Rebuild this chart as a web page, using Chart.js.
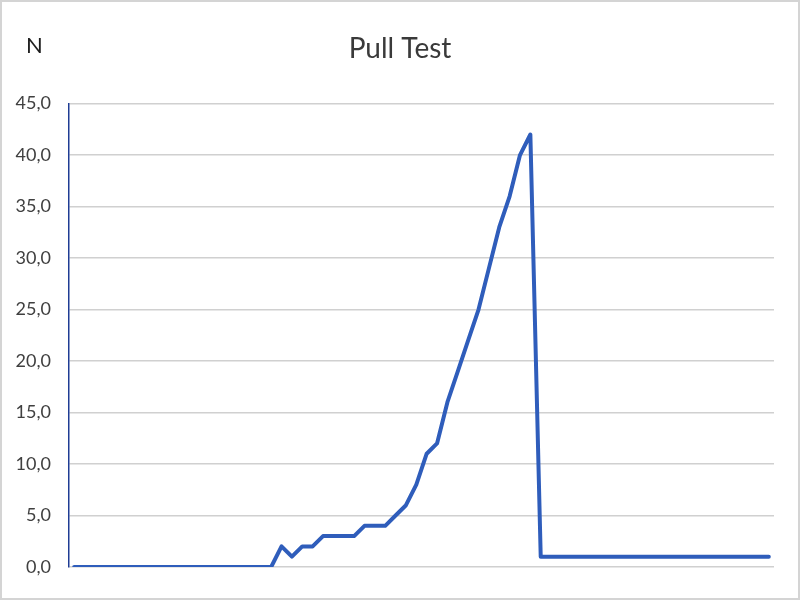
<!DOCTYPE html>
<html>
<head>
<meta charset="utf-8">
<title>Pull Test</title>
<script src="https://cdn.jsdelivr.net/npm/chart.js@4/dist/chart.umd.min.js"></script>
<style>
  html, body { margin: 0; padding: 0; background: #fff; }
  #wrap { width: 800px; height: 600px; }
</style>
</head>
<body>
<div id="wrap"><canvas id="pull-chart" width="800" height="600"></canvas></div>
<script>
// sample index (x axis, not labelled in the picture)
const samples = [
  1, 2, 3, 4, 5, 6, 7, 8, 9, 10, 11, 12, 13, 14, 15, 16, 17,
  18, 19, 20, 21, 22, 23, 24, 25, 26, 27, 28, 29, 30, 31, 32, 33, 34,
  35, 36, 37, 38, 39, 40, 41, 42, 43, 44, 45, 46, 47, 48, 49, 50, 51,
  52, 53, 54, 55, 56, 57, 58, 59, 60, 61, 62, 63, 64, 65, 66, 67, 68
];

// force in N
const force = [
  0, 0, 0, 0, 0, 0, 0, 0, 0, 0, 0, 0, 0, 0, 0, 0, 0, 0, 0, 0,
  2, 1, 2, 2, 3, 3, 3, 3, 4, 4, 4, 5, 6, 8, 11, 12,
  16, 19, 22, 25, 29, 33, 36, 40, 42,
  1, 1, 1, 1, 1, 1, 1, 1, 1, 1, 1, 1, 1, 1, 1, 1, 1, 1, 1, 1, 1, 1, 1
];

const yTicks = [0, 5, 10, 15, 20, 25, 30, 35, 40, 45];

const FONT = 'Lato, "Open Sans", sans-serif';

// white page, grey frame, and the "N" unit label top left
const frame = {
  id: 'frame',
  beforeDraw(chart) {
    const c = chart.ctx;
    c.save();
    c.fillStyle = '#fff';
    c.fillRect(0, 0, chart.width, chart.height);
    c.restore();
  },
  afterDraw(chart) {
    const c = chart.ctx;
    c.save();
    c.strokeStyle = '#d4d4d4';
    c.lineWidth = 2;
    c.strokeRect(1, 1, chart.width - 2, chart.height - 2);
    c.fillStyle = '#1e1e1e';
    c.font = '22px ' + FONT;
    c.textBaseline = 'alphabetic';
    c.fillText('N', 26, 53);
    c.restore();
  }
};

new Chart(document.getElementById('pull-chart'), {
  type: 'line',
  data: {
    labels: samples,
    datasets: [{
      label: 'Pull Test',
      data: force,
      yAxisID: 'y',
      borderColor: '#2f5dbb',
      borderWidth: 4,
      borderCapStyle: 'round',
      borderJoinStyle: 'round',
      tension: 0,
      pointRadius: 0,
      fill: false
    }]
  },
  options: {
    responsive: false,
    animation: false,
    devicePixelRatio: 1,
    layout: {
      padding: { left: 0, right: 0, top: 0, bottom: 33 }
    },
    plugins: {
      legend: { display: false },
      tooltip: { enabled: false },
      title: {
        display: true,
        text: 'Pull Test',
        color: '#3a3a3a',
        font: { family: FONT, size: 28, weight: 'normal' },
        padding: { top: 32, bottom: 38 }
      }
    },
    scales: {
      x: {
        display: false,
        offset: true
      },
      y: {
        position: 'left',
        min: 0,
        max: 45,
        afterBuildTicks(axis) {
          axis.ticks = yTicks.map(v => ({ value: v }));
        },
        afterFit(axis) {
          axis.width = 69;
        },
        ticks: {
          color: '#404040',
          padding: 18,
          font: { family: FONT, size: 18 },
          callback: v => v.toFixed(1).replace('.', ',')
        },
        grid: {
          color: '#d0d0d0',
          lineWidth: 1.5,
          drawTicks: false
        },
        border: {
          display: true,
          color: '#1f3c94',
          width: 1.5
        }
      },
      // empty right-hand margin so the title stays centred on the page
      gap: {
        position: 'right',
        ticks: { display: false },
        grid: { display: false },
        border: { display: false },
        afterFit(axis) {
          axis.width = 26;
        }
      }
    }
  },
  plugins: [frame]
});
</script>
</body>
</html>
